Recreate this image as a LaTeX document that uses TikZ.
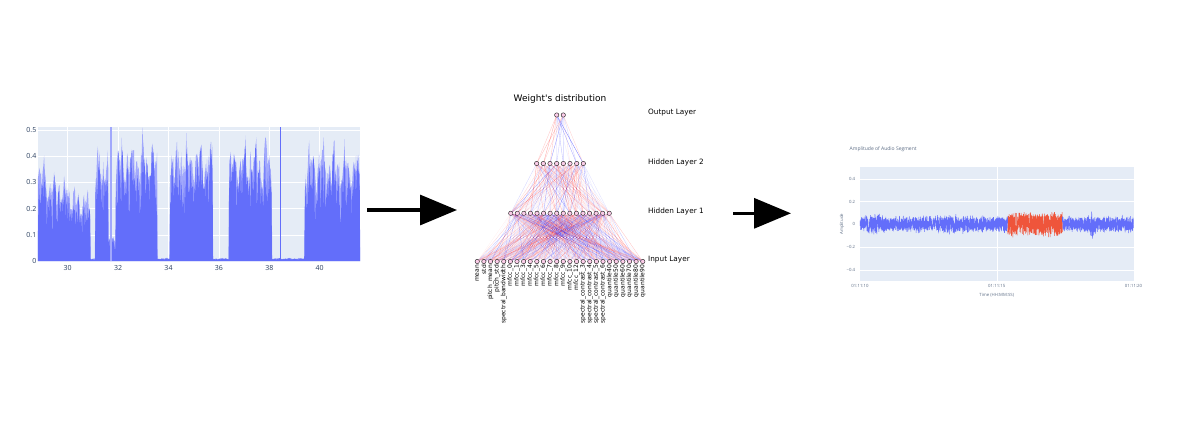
\documentclass[tikz,border=0pt]{standalone}
\usepackage{fontspec}
\setmainfont{DejaVu Sans}
\newfontfamily\plotlyfont{Open Sans}
\usetikzlibrary{arrows.meta}

\definecolor{plotbg}{HTML}{E5ECF6}
\definecolor{plotbar}{HTML}{636EFA}
\definecolor{plotred}{HTML}{EF553B}
\definecolor{plottxt}{HTML}{2A3F5F}

\tikzset{
  neuron/.style={circle, draw=black!85, fill=magenta!20, line width=.45pt, inner sep=0pt, minimum size=4.4pt},
  layerlabel/.style={anchor=west, inner sep=0pt, font=\fontsize{7.3}{8}\selectfont},
  featlabel/.style={rotate=90, anchor=east, inner sep=.8pt, font=\fontsize{6}{6}\selectfont},
  tick/.style={font=\plotlyfont\fontsize{7}{8}\selectfont, text=plottxt, inner sep=1pt},
  smalltick/.style={font=\plotlyfont\fontsize{4.3}{5}\selectfont, text=plottxt!75, inner sep=.5pt},
  grid line/.style={white, line width=.6pt},
  bigarrow/.style={line width=3.2pt, -{Triangle[length=37pt,width=30pt]}},
}

\begin{document}
\begin{tikzpicture}[x=1pt, y=-1pt,
  declare function={
    envL(\t)=0.012+(\t<30.9)*(0.40-0.16*(\t-28.8)/2.1)+(\t>31.1)*(\t<31.6)*0.43
      +(\t>31.6)*(\t<31.9)*0.09+(\t>31.9)*(\t<33.55)*0.47+(\t>34.05)*(\t<35.75)*0.46
      +(\t>36.4)*(\t<38.1)*0.45+(\t>39.4)*0.44;
    modL(\t)=0.82+0.18*sin(520*\t)*cos(1330*\t);
    envR(\t)=0.045+0.035*rnd+0.02*exp(-((\t-3.3)/0.5)^2)+0.06*exp(-((\t-8.5)/0.08)^2)
      +0.025*exp(-((\t-0.5)/0.3)^2);
  }]
\fill[white] (0,0) rectangle (1200,432);
\useasboundingbox (0,0) rectangle (1200,432);
\pgfmathsetseed{11}

% energy plot
\begin{scope}[shift={(67.7,261)}, x=25.2pt, y=262pt]
\fill[plotbg] (-1.18,0) rectangle (11.6,0.513);
\foreach \g in {0.1,0.2,0.3,0.4,0.5} \draw[grid line] (-1.18,\g) -- (11.6,\g);
\foreach \g in {0,2,...,10} \draw[grid line] (\g,0) -- (\g,0.513);
\fill[plotbar!60] (-1.18,0) -- plot[samples=420, domain=-1.18:11.6] (\x,{min(0.51,envL(\x+30)*modL(\x)*(0.8+0.3*rnd))}) -- (11.6,0) -- cycle;
\fill[plotbar] (-1.18,0) -- plot[samples=700, domain=-1.18:11.6] (\x,{envL(\x+30)*modL(\x)*(0.3+0.7*rnd^0.5)}) -- (11.6,0) -- cycle;
% spikes
\fill[plotbar!60] (1.69,0) rectangle (1.74,0.513);
\fill[plotbar] (8.43,0) rectangle (8.47,0.513);
% ticks
\foreach \v in {0,0.1,0.2,0.3,0.4,0.5} \node[tick, anchor=east] at (-1.2,\v) {\v};
\foreach \v [evaluate=\v as \l using int(\v+30)] in {0,2,...,10} \node[tick, anchor=north] at (\v,-0.012) {\l};
\end{scope}

% arrows
\coordinate (arrAs) at (367,210);
\coordinate (arrAe) at (457,210);
\draw[bigarrow] (arrAs) -- (arrAe);
\coordinate (arrBs) at (733,213.3);
\coordinate (arrBe) at (791,213.3);
\draw[bigarrow] (arrBs) -- (arrBe);

% network
\node[font=\fontsize{9}{10}\selectfont] (title) at (560,99) {Weight\textquotesingle s distribution};
\foreach \i in {1,...,26} \node[neuron] (in\i) at ({560+(\i-13.5)*6.62},261.5) {};
\foreach \i in {1,...,16} \node[neuron] (hA\i) at ({560+(\i-8.5)*6.57},213.3) {};
\foreach \i in {1,...,8} \node[neuron] (hB\i) at ({560+(\i-4.5)*6.67},163.5) {};
\foreach \i in {1,2} \node[neuron] (out\i) at ({560+(\i-1.5)*6.6},115) {};
% weights
\foreach \a in {1,...,26}{
  \foreach \b in {1,...,16}{
    \pgfmathsetmacro\w{rand}
    \pgfmathsetmacro\op{0.03+0.33*abs(\w)^2}
    \ifdim\w pt<0pt \def\wcol{blue}\else\def\wcol{red}\fi
    \draw[draw=\wcol, opacity=\op, line width=.3pt] (in\a) -- (hA\b);
  }}
\foreach \a in {1,...,16}{
  \foreach \b in {1,...,8}{
    \pgfmathsetmacro\w{rand}
    \pgfmathsetmacro\op{0.03+0.4*abs(\w)^2}
    \ifdim\w pt<0pt \def\wcol{blue}\else\def\wcol{red}\fi
    \draw[draw=\wcol, opacity=\op, line width=.3pt] (hA\a) -- (hB\b);
  }}
\foreach \a in {1,...,8}{
  \foreach \b in {1,2}{
    \pgfmathsetmacro\w{rand}
    \pgfmathsetmacro\op{0.05+0.5*abs(\w)}
    \ifdim\w pt<0pt \def\wcol{blue}\else\def\wcol{red}\fi
    \draw[draw=\wcol, opacity=\op, line width=.35pt] (hB\a) -- (out\b);
  }}
% feature names
\foreach \i/\f in {1/mean, 2/std, 3/pitch\_mean, 4/pitch\_std, 5/spectral\_bandwidth,
  6/mfcc\_0, 7/mfcc\_1, 8/mfcc\_3, 9/mfcc\_4, 10/mfcc\_5, 11/mfcc\_6, 12/mfcc\_7,
  13/mfcc\_8, 14/mfcc\_9, 15/mfcc\_10, 16/mfcc\_12, 17/spectral\_contrast\_3,
  18/spectral\_contrast\_4, 19/spectral\_contrast\_5, 20/spectral\_contrast\_6,
  21/quantile40, 22/quantile50, 23/quantile60, 24/quantile70, 25/quantile80, 26/quantile90}
  \node[featlabel] (lab\i) at (in\i.south) {\f};
% layer names
\node[layerlabel] (lOut) at (648,113) {Output Layer};
\node[layerlabel] (lHB) at (648,162) {Hidden Layer 2};
\node[layerlabel] (lHA) at (648,211) {Hidden Layer 1};
\node[layerlabel] (lIn) at (648,260) {Input Layer};

% audio segment
\node[smalltick, anchor=west, font=\plotlyfont\fontsize{5}{6}\selectfont] (atitle) at (849,149) {Amplitude of Audio Segment};
\begin{scope}[shift={(860,224.3)}, x=27.35pt, y=114pt]
\fill[plotbg] (0,-0.5) rectangle (10,0.5);
\foreach \g in {-0.4,-0.2,0,0.2,0.4} \draw[grid line, line width=.4pt] (0,\g) -- (10,\g);
\draw[grid line, line width=.4pt] (5,-0.5) -- (5,0.5);
\draw[plotbar, line width=.5pt] plot[samples=1300, domain=0:5.4] (\x,{envR(\x)*rand});
\draw[plotred, line width=.5pt] plot[samples=500, domain=5.4:7.4] (\x,{(0.075+0.045*rnd)*rand});
\draw[plotbar, line width=.5pt] plot[samples=650, domain=7.4:10] (\x,{envR(\x)*rand});
\foreach \v/\l in {0.4/0.4, 0.2/0.2, 0/0, -0.2/−0.2, -0.4/−0.4} \node[smalltick, anchor=east] at (-0.15,\v) {\l};
\foreach \v/\l in {0/01:11:10, 5/01:11:15, 10/01:11:20} \node[smalltick, anchor=north] at (\v,-0.52) {\l};
\node[smalltick] (xlab) at (5,-0.62) {Time (HH:MM:SS)};
\node[smalltick, rotate=90] (ylab) at (-0.66,0) {Amplitude};
\end{scope}
\end{tikzpicture}
\end{document}
